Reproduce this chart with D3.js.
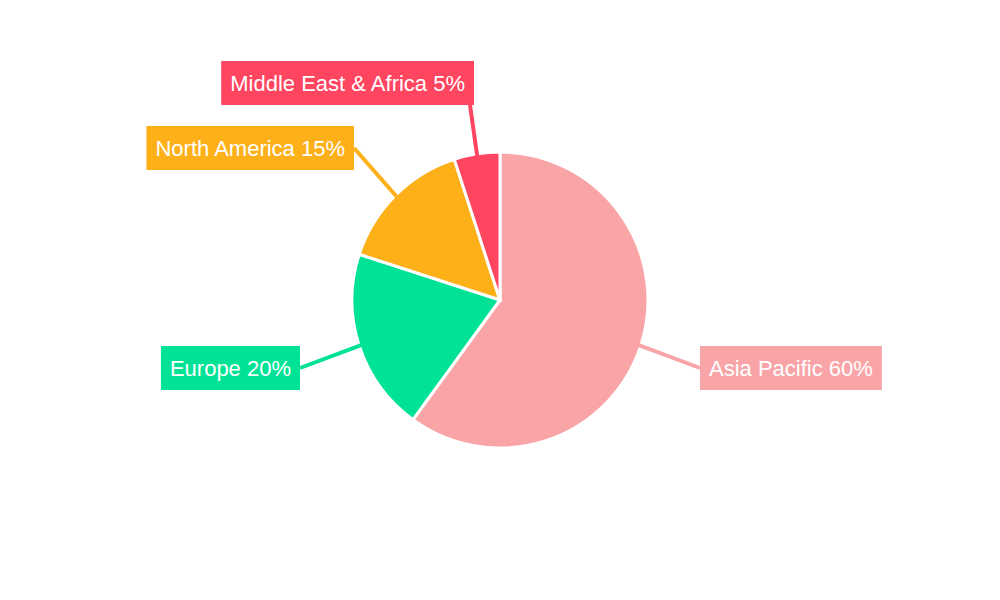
<!DOCTYPE html>
<html><head><meta charset="utf-8">
<script src="https://cdn.jsdelivr.net/npm/d3@7"></script>
<style>body{margin:0;background:#fff}</style>
</head><body><div id="chart"></div>
<script>
const regions = ["Asia Pacific", "Europe", "North America", "Middle East & Africa"];
const shares = [60, 20, 15, 5];
const colors = ["#F9A5A7", "#00E396", "#FEB019", "#FF4560"];

const width = 1000, height = 600, cx = 500, cy = 300, radius = 148;
// label box anchor (line end) and box side
const labelPos = [
  {x: 700, y: 368, side: "right"},
  {x: 300, y: 368, side: "left"},
  {x: 354, y: 148, side: "left"},
  {x: 470, y: 105, side: "up"}
];

const svg = d3.select("#chart").append("svg").attr("width", width).attr("height", height);
const g = svg.append("g").attr("transform", `translate(${cx},${cy})`);

const pie = d3.pie().sort(null).value(d => d);
const arcs = pie(shares);
const arc = d3.arc().innerRadius(0).outerRadius(radius);

g.selectAll("path.slice").data(arcs).enter().append("path")
  .attr("d", arc)
  .attr("fill", (d, i) => colors[i])
  .attr("stroke", "#fff").attr("stroke-width", 3);

// leader lines
arcs.forEach((d, i) => {
  const a = (d.startAngle + d.endAngle) / 2;
  const sx = Math.sin(a) * (radius - 2), sy = -Math.cos(a) * (radius - 2);
  const lp = labelPos[i];
  g.append("line")
    .attr("x1", sx).attr("y1", sy)
    .attr("x2", lp.x - cx).attr("y2", lp.y - cy)
    .attr("stroke", colors[i]).attr("stroke-width", 4);
});

// labels
arcs.forEach((d, i) => {
  const lp = labelPos[i];
  const txt = `${regions[i]} ${shares[i]}%`;
  const t = svg.append("text")
    .attr("font-family", "Liberation Sans, Arial, sans-serif")
    .attr("font-size", 22).attr("fill", "#fff")
    .attr("dominant-baseline", "central")
    .text(txt);
  const w = t.node().getComputedTextLength() + 18, h = 44;
  let bx, by;
  if (lp.side === "right") { bx = lp.x; by = lp.y - h / 2; }
  else if (lp.side === "left") { bx = lp.x - w; by = lp.y - h / 2; }
  else { bx = lp.x + 4 - w; by = lp.y - h; }
  svg.insert("rect", "text:last-of-type")
    .attr("x", bx).attr("y", by).attr("width", w).attr("height", h)
    .attr("fill", colors[i]);
  t.attr("x", bx + 9).attr("y", by + h / 2);
  t.raise();
});
</script></body></html>
